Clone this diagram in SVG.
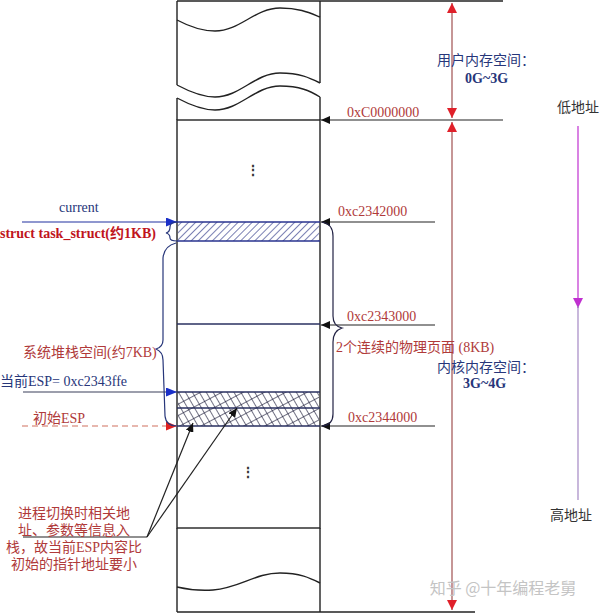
<svg xmlns="http://www.w3.org/2000/svg" width="600" height="614" viewBox="0 0 600 614">
<style>
.col{fill:none;stroke:#222;stroke-width:1.4}
.t{font-family:"Liberation Serif","Noto Sans CJK SC",serif;font-size:14px}
.red{fill:#b03a3a}
.navy{fill:#27367a}
.bold{font-weight:bold}
.gray{fill:#333}
.conn{fill:none;stroke-width:1.2}
</style>
<defs>
<marker id="aBlack" markerUnits="userSpaceOnUse" markerWidth="10" markerHeight="8" refX="9" refY="4" orient="auto"><path d="M0,0 L9,4 L0,8 z" fill="#111"/></marker>
<marker id="aBlue" markerUnits="userSpaceOnUse" markerWidth="12" markerHeight="10" refX="11" refY="4.5" orient="auto"><path d="M0,0 L11,4.5 L0,9 z" fill="#1a2fc8"/></marker>
<marker id="aRed" markerUnits="userSpaceOnUse" markerWidth="12" markerHeight="10" refX="11" refY="4.5" orient="auto"><path d="M0,0 L11,4.5 L0,9 z" fill="#e02020"/></marker>
<marker id="aRedV" markerUnits="userSpaceOnUse" markerWidth="12" markerHeight="10" refX="10" refY="5" orient="auto-start-reverse"><path d="M0,0 L10,5 L0,10 z" fill="#e0202a"/></marker>
<marker id="aMag" markerUnits="userSpaceOnUse" markerWidth="12" markerHeight="10" refX="10" refY="5" orient="auto"><path d="M0,0 L10,5 L0,10 z" fill="#c030d0"/></marker>
<pattern id="hatch" width="5" height="5" patternUnits="userSpaceOnUse" patternTransform="rotate(45)"><line x1="0" y1="0" x2="0" y2="5" stroke="#1f2a80" stroke-width="1.2"/></pattern>
<pattern id="steep" width="6" height="6" patternUnits="userSpaceOnUse" patternTransform="rotate(-30)"><line x1="0" y1="0" x2="0" y2="6" stroke="#111130" stroke-width="1.2"/></pattern>
<pattern id="shallow" width="10" height="10" patternUnits="userSpaceOnUse" patternTransform="rotate(-28)"><line x1="0" y1="0" x2="10" y2="0" stroke="#111130" stroke-width="1.2"/></pattern>
</defs>

<g id="user-space-column">
<path class="col" d="M177,1 H503"/>
<path class="col" d="M177,1 V85 M320,1 V83"/>
<path class="col" d="M177,20 C192,28 203,31 215,31 C240,31 255,8 280,8 C300,8 310,13 320,17"/>
<path class="col" d="M177,85 C192,93 203,97 215,97 C240,97 255,73 280,73 C300,73 310,78 320,83"/>
<path class="col" d="M177,98 C192,106 203,110 215,110 C240,110 255,86 280,86 C300,86 310,91 320,97"/>
<path class="col" d="M177,98 V120 M320,97 V120"/>
</g>

<g id="kernel-column">
<rect class="col" x="177" y="120" width="143" height="408"/>
<rect x="178" y="222" width="141" height="19" fill="url(#hatch)"/>
<path d="M177,222 H320 M177,241 H320" stroke="#2a3590" stroke-width="1.4" fill="none"/>
<path d="M177,324 H320" stroke="#2a3060" stroke-width="1.4" fill="none"/>
<rect x="178" y="392" width="141" height="34" fill="url(#steep)"/>
<rect x="178" y="392" width="141" height="34" fill="url(#shallow)"/>
<path d="M177,392 H320 M177,408 H320 M177,426 H320" stroke="#2a3060" stroke-width="1.4" fill="none"/>
<text class="t gray bold" x="253" y="175" text-anchor="middle">⋮</text>
<text class="t gray bold" x="248" y="477" text-anchor="middle">⋮</text>
</g>

<g id="bottom-column">
<path class="col" d="M177,528 V612 M320,528 V612"/>
<path class="col" d="M177,587 C190,590 200,591 213,590 C240,588 255,573 280,573 C300,573 310,578 320,583"/>
<path class="col" d="M177,612 H475"/>
</g>

<g id="connectors">
<path class="conn" d="M22,222 H177" stroke="#2030a0" marker-end="url(#aBlue)"/>
<path class="conn" d="M23,392 H177" stroke="#3a3f5a" marker-end="url(#aBlue)"/>
<path class="conn" d="M22,426 H177" stroke="#d0705e" stroke-dasharray="6,4" marker-end="url(#aRed)"/>
<path class="conn" d="M503,120 H321" stroke="#222" marker-end="url(#aBlack)"/>
<path class="conn" d="M435,222 H321" stroke="#222" marker-end="url(#aBlack)"/>
<path class="conn" d="M435,325 H321" stroke="#222" marker-end="url(#aBlack)"/>
<path class="conn" d="M435,426 H321" stroke="#222" marker-end="url(#aBlack)"/>
<path class="conn" d="M452,3 V118" stroke="#a05050" marker-start="url(#aRedV)" marker-end="url(#aRedV)"/>
<path class="conn" d="M452,122 V610" stroke="#a05050" marker-start="url(#aRedV)" marker-end="url(#aRedV)"/>
<path class="conn" d="M578,126 V308" stroke="#c030d0" marker-end="url(#aMag)"/>
<path class="conn" d="M578,306 V500" stroke="#a488c4"/>
<path class="conn" d="M23,537 H147" stroke="#222"/>
<path class="conn" d="M147,537 L193,423" stroke="#222" marker-end="url(#aBlack)"/>
<path class="conn" d="M147,537 L237,408" stroke="#222" marker-end="url(#aBlack)"/>
<path class="conn" d="M177,222 Q170,222 170,227 Q170,232 166,233 Q170,234 170,238 Q170,241 177,241" stroke="#27367a"/>
<path class="conn" d="M176,243 Q164,246 163,258 L163,340 Q163,347 156,349 Q163,352 163,360 L165,416 Q166,426 177,426" stroke="#27367a"/>
<path class="conn" d="M322,222 Q333,224 333,236 L333,316 Q333,326 342,328 Q333,331 333,342 L333,414 Q333,425 322,426" stroke="#222244"/>
</g>

<g id="labels">
<text class="t navy" x="437" y="65">用户内存空间：</text>
<text class="t navy bold" x="465" y="83">0G~3G</text>
<text class="t red" x="347" y="117">0xC0000000</text>
<text class="t gray" x="557" y="112">低地址</text>
<text class="t navy" x="59" y="212">current</text>
<text class="t bold" x="0" y="238" fill="#c0141c">struct task_struct(约1KB)</text>
<text class="t red" x="338" y="216">0xc2342000</text>
<text class="t red" x="347" y="321">0xc2343000</text>
<text class="t red" x="23" y="357">系统堆栈空间(约7KB)</text>
<text class="t red" x="336" y="352">2个连续的物理页面 (8KB)</text>
<text class="t navy" x="437" y="372">内核内存空间：</text>
<text class="t navy bold" x="463" y="388">3G~4G</text>
<text class="t navy" x="0" y="386">当前ESP= 0xc2343ffe</text>
<text class="t red" x="33" y="423">初始ESP</text>
<text class="t red" x="348" y="422">0xc2344000</text>
<text class="t gray" x="550" y="520">高地址</text>
<text class="t red" text-anchor="middle"><tspan x="74" y="518">进程切换时相关地</tspan><tspan x="74" y="535">址、参数等信息入</tspan><tspan x="74" y="552">栈，故当前ESP内容比</tspan><tspan x="74" y="569">初始的指针地址要小</tspan></text>
<text x="503" y="594" text-anchor="middle" font-family="'Noto Sans CJK SC',sans-serif" font-size="16" fill="#c4c4c4">知乎 @十年编程老舅</text>
</g>
</svg>
